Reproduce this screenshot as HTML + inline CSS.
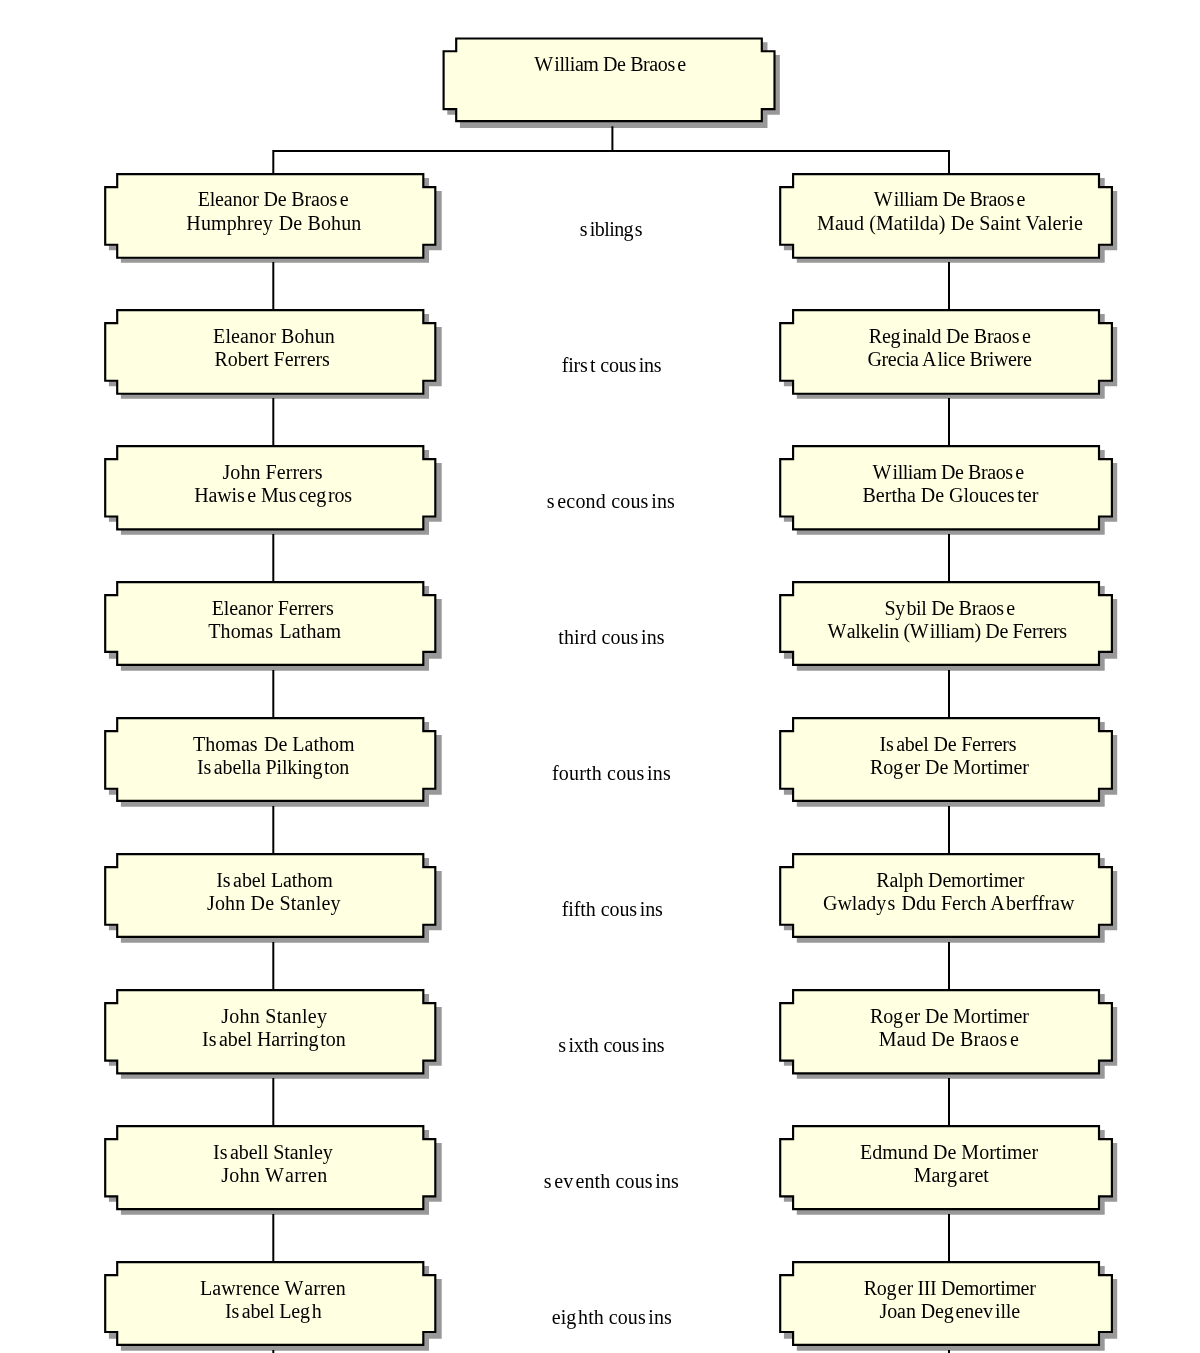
<!DOCTYPE html>
<html><head><meta charset="utf-8"><title>Relationship Chart</title>
<style>
html,body{margin:0;padding:0;background:#fff;}
body{width:1200px;height:1353px;overflow:hidden;font-family:"Liberation Serif",serif;}
svg{display:block;will-change:transform;}
text{font-family:"Liberation Serif",serif;font-size:20px;fill:#000;text-anchor:start;white-space:pre;}
</style></head><body>
<svg width="1200" height="1353" viewBox="0 0 1200 1353">
<rect width="1200" height="1353" fill="#fff"/>
<g fill="#999" stroke="#999" stroke-width="2" transform="translate(4.7 0)">
<path d="M456.2 43.35H761.8V56.1H774.15V113.7H761.8V127.1H456.2V113.7H443.6V56.1H456.2Z"/>
<path d="M117.2 179.0H423.3V192.0H436.0V249.3H423.3V261.8H117.2V249.3H105.2V192.0H117.2Z"/>
<path d="M793.1 179.0H1099.0V192.0H1111.5V249.3H1099.0V261.8H793.1V249.3H780.2V192.0H793.1Z"/>
<path d="M117.2 315.0H423.3V328.0H436.0V385.33H423.3V397.8H117.2V385.33H105.2V328.0H117.2Z"/>
<path d="M793.1 315.0H1099.0V328.0H1111.5V385.33H1099.0V397.8H793.1V385.33H780.2V328.0H793.1Z"/>
<path d="M117.2 451.0H423.3V464.0H436.0V520.8H423.3V533.8H117.2V520.8H105.2V464.0H117.2Z"/>
<path d="M793.1 451.0H1099.0V464.0H1111.5V520.8H1099.0V533.8H793.1V520.8H780.2V464.0H793.1Z"/>
<path d="M117.2 587.0H423.3V600.0H436.0V657.67H423.3V669.8H117.2V657.67H105.2V600.0H117.2Z"/>
<path d="M793.1 587.0H1099.0V600.0H1111.5V657.67H1099.0V669.8H793.1V657.67H780.2V600.0H793.1Z"/>
<path d="M117.2 723.0H423.3V736.0H436.0V793.67H423.3V805.8H117.2V793.67H105.2V736.0H117.2Z"/>
<path d="M793.1 723.0H1099.0V736.0H1111.5V793.67H1099.0V805.8H793.1V793.67H780.2V736.0H793.1Z"/>
<path d="M117.2 859.0H423.3V872.0H436.0V929.17H423.3V941.8H117.2V929.17H105.2V872.0H117.2Z"/>
<path d="M793.1 859.0H1099.0V872.0H1111.5V929.17H1099.0V941.8H793.1V929.17H780.2V872.0H793.1Z"/>
<path d="M117.2 995.0H423.3V1008.0H436.0V1064.83H423.3V1077.8H117.2V1064.83H105.2V1008.0H117.2Z"/>
<path d="M793.1 995.0H1099.0V1008.0H1111.5V1064.83H1099.0V1077.8H793.1V1064.83H780.2V1008.0H793.1Z"/>
<path d="M117.2 1131.0H423.3V1144.0H436.0V1200.83H423.3V1213.8H117.2V1200.83H105.2V1144.0H117.2Z"/>
<path d="M793.1 1131.0H1099.0V1144.0H1111.5V1200.83H1099.0V1213.8H793.1V1200.83H780.2V1144.0H793.1Z"/>
<path d="M117.2 1267.0H423.3V1280.0H436.0V1337.67H423.3V1349.8H117.2V1337.67H105.2V1280.0H117.2Z"/>
<path d="M793.1 1267.0H1099.0V1280.0H1111.5V1337.67H1099.0V1349.8H793.1V1337.67H780.2V1280.0H793.1Z"/>
</g>
<g fill="none" stroke="#000" stroke-width="2">
<path d="M612.4 126.3V151"/>
<path d="M273.3 174V151H949.0V174"/>
<path d="M273.3 262.0V310.1"/>
<path d="M949.0 262.0V310.1"/>
<path d="M273.3 398.0V446.1"/>
<path d="M949.0 398.0V446.1"/>
<path d="M273.3 534.0V582.1"/>
<path d="M949.0 534.0V582.1"/>
<path d="M273.3 670.0V718.1"/>
<path d="M949.0 670.0V718.1"/>
<path d="M273.3 806.0V854.1"/>
<path d="M949.0 806.0V854.1"/>
<path d="M273.3 942.0V990.1"/>
<path d="M949.0 942.0V990.1"/>
<path d="M273.3 1078.0V1126.1"/>
<path d="M949.0 1078.0V1126.1"/>
<path d="M273.3 1214.0V1262.1"/>
<path d="M949.0 1214.0V1262.1"/>
<path d="M273.3 1350.0V1353"/>
<path d="M949.0 1350.0V1353"/>
</g>
<g fill="#ffffe1" stroke="#000" stroke-width="2.15" stroke-linejoin="miter">
<path d="M456.2 38.45H761.8V51.2H774.5V109.1H761.8V121.1H456.2V109.1H443.6V51.2H456.2Z"/>
<path d="M117.2 174.1H423.3V187.05H435.3V244.75H423.3V257.75H117.2V244.75H105.2V187.05H117.2Z"/>
<path d="M793.1 174.1H1099.0V187.05H1111.9V244.75H1099.0V257.75H793.1V244.75H780.2V187.05H793.1Z"/>
<path d="M117.2 310.1H423.3V323.05H435.3V380.75H423.3V393.75H117.2V380.75H105.2V323.05H117.2Z"/>
<path d="M793.1 310.1H1099.0V323.05H1111.9V380.75H1099.0V393.75H793.1V380.75H780.2V323.05H793.1Z"/>
<path d="M117.2 446.1H423.3V459.05H435.3V516.5H423.3V529.3H117.2V516.5H105.2V459.05H117.2Z"/>
<path d="M793.1 446.1H1099.0V459.05H1111.9V516.5H1099.0V529.3H793.1V516.5H780.2V459.05H793.1Z"/>
<path d="M117.2 582.1H423.3V595.05H435.3V651.9H423.3V664.9H117.2V651.9H105.2V595.05H117.2Z"/>
<path d="M793.1 582.1H1099.0V595.05H1111.9V651.9H1099.0V664.9H793.1V651.9H780.2V595.05H793.1Z"/>
<path d="M117.2 718.1H423.3V731.05H435.3V788.75H423.3V800.9H117.2V788.75H105.2V731.05H117.2Z"/>
<path d="M793.1 718.1H1099.0V731.05H1111.9V788.75H1099.0V800.9H793.1V788.75H780.2V731.05H793.1Z"/>
<path d="M117.2 854.1H423.3V867.05H435.3V924.75H423.3V936.9H117.2V924.75H105.2V867.05H117.2Z"/>
<path d="M793.1 854.1H1099.0V867.05H1111.9V924.75H1099.0V936.9H793.1V924.75H780.2V867.05H793.1Z"/>
<path d="M117.2 990.1H423.3V1003.05H435.3V1060.6H423.3V1073.4H117.2V1060.6H105.2V1003.05H117.2Z"/>
<path d="M793.1 990.1H1099.0V1003.05H1111.9V1060.6H1099.0V1073.4H793.1V1060.6H780.2V1003.05H793.1Z"/>
<path d="M117.2 1126.1H423.3V1139.05H435.3V1196.4H423.3V1209.1H117.2V1196.4H105.2V1139.05H117.2Z"/>
<path d="M793.1 1126.1H1099.0V1139.05H1111.9V1196.4H1099.0V1209.1H793.1V1196.4H780.2V1139.05H793.1Z"/>
<path d="M117.2 1262.1H423.3V1275.05H435.3V1332.0H423.3V1344.9H117.2V1332.0H105.2V1275.05H117.2Z"/>
<path d="M793.1 1262.1H1099.0V1275.05H1111.9V1332.0H1099.0V1344.9H793.1V1332.0H780.2V1275.05H793.1Z"/>
</g>
<g>
<text x="534.25" y="71" dx="0 1.98 -0.42 -0.42 -0.42 -0.42 -0.42 -0.42 -0.42 -0.42 -0.42 -0.42 -0.42 -0.42 -0.42 -0.42 2.18">William De Braose</text>
<text x="197.65" y="206" dx="0 -0.17 -0.17 -0.17 -0.17 -0.17 -0.17 -0.17 -0.17 -0.17 -0.17 -0.17 -0.17 -0.17 -0.17 -0.17 2.43">Eleanor De Braose</text>
<text x="186.3" y="230" dx="0 0.13 0.13 0.13 0.13 0.13 0.13 0.13 0.83 0.13 0.13 0.13 0.13 0.13 0.13 0.13 0.13">Humphrey De Bohun</text>
<text x="873.75" y="206" dx="0 1.96 -0.44 -0.44 -0.44 -0.44 -0.44 -0.44 -0.44 -0.44 -0.44 -0.44 -0.44 -0.44 -0.44 -0.44 2.16">William De Braose</text>
<text x="817.0" y="230" dx="0 0.09 0.09 0.09 0.09 0.09 0.09 0.09 0.09 0.09 0.09 0.09 0.09 0.09 0.09 0.09 0.09 0.09 0.09 0.09 0.09 0.09 0.09 0.09 0.09 0.09 0.09 0.09 0.09 0.09 0.09">Maud (Matilda) De Saint Valerie</text>
<text x="579.87" y="236" dx="0 2.04 -0.56 -0.56 -0.56 -0.56 -0.56 1.24">siblings</text>
<text x="213.1" y="343" dx="0 0.09 0.09 0.09 0.09 0.09 0.09 0.09 0.09 0.09 0.09 0.09 0.09">Eleanor Bohun</text>
<text x="214.6" y="366" dx="0 -0.07 -0.07 -0.07 -0.07 -0.07 -0.07 -0.07 -0.07 -0.07 -0.07 -0.07 -0.07 -0.07">Robert Ferrers</text>
<text x="868.75" y="343" dx="0 -0.2 -0.2 1.6 -0.2 -0.2 -0.2 -0.2 -0.2 -0.2 -0.2 -0.2 -0.2 -0.2 -0.2 -0.2 -0.2 2.4">Reginald De Braose</text>
<text x="867.5" y="366" dx="0 -0.38 -0.38 -0.38 -0.38 -0.38 -0.38 -0.38 1.02 -0.38 -0.38 -0.38 -0.38 -0.38 -0.38 -0.38 -0.38 -0.38 -0.38 -0.38">Grecia Alice Briwere</text>
<text x="561.7" y="372" dx="0 -0.22 -0.22 -0.22 2.38 -0.22 -0.22 -0.22 -0.22 -0.22 2.38 -0.22 -0.22">first cousins</text>
<text x="222.5" y="479" dx="0 0.05 0.05 0.05 0.05 0.05 0.05 0.05 0.05 0.05 0.05 0.05">John Ferrers</text>
<text x="194.2" y="502" dx="0 -0.13 -0.13 -0.13 -0.13 2.47 -0.13 -0.13 -0.13 -0.13 2.47 -0.13 -0.13 1.67 -0.13 -0.13">Hawise Muscegros</text>
<text x="872.5" y="479" dx="0 1.95 -0.45 -0.45 -0.45 -0.45 -0.45 -0.45 -0.45 -0.45 -0.45 -0.45 -0.45 -0.45 -0.45 -0.45 2.15">William De Braose</text>
<text x="862.5" y="502" dx="0 -0.01 -0.01 -0.01 -0.01 -0.01 -0.01 -0.01 -0.01 -0.01 -0.01 -0.01 -0.01 -0.01 -0.01 -0.01 -0.01 2.59 -0.01 -0.01">Bertha De Gloucester</text>
<text x="546.7" y="508" dx="0 2.78 0.18 0.18 0.18 0.18 0.18 0.18 0.18 0.18 0.18 2.78 0.18 0.18">second cousins</text>
<text x="211.7" y="615" dx="0 -0.14 -0.14 -0.14 -0.14 -0.14 -0.14 -0.14 -0.14 -0.14 -0.14 -0.14 -0.14 -0.14 -0.14">Eleanor Ferrers</text>
<text x="208.3" y="638" dx="0 0.07 0.07 0.07 0.07 0.07 1.37 0.07 0.07 0.07 0.07 0.07 0.07">Thomas Latham</text>
<text x="884.5" y="615" dx="0 -0.32 1.08 -0.32 -0.32 -0.32 -0.32 -0.32 -0.32 -0.32 -0.32 -0.32 -0.32 -0.32 2.28">Sybil De Braose</text>
<text x="827.5" y="638" dx="0 2.04 -0.36 -0.36 -0.36 -0.36 -0.36 -0.36 -0.36 -0.36 -0.36 2.04 -0.36 -0.36 -0.36 -0.36 -0.36 -0.36 -0.36 -0.36 -0.36 -0.36 -0.36 -0.36 -0.36 -0.36 -0.36 -0.36 -0.36">Walkelin (William) De Ferrers</text>
<text x="558.3" y="644" dx="0 0.07 0.07 0.07 0.07 0.07 0.07 0.07 0.07 0.07 2.67 0.07 0.07">third cousins</text>
<text x="193.1" y="751" dx="0 0.01 0.01 0.01 0.01 0.01 1.31 0.01 0.01 0.01 0.01 0.01 0.01 0.01 0.01 0.01">Thomas De Lathom</text>
<text x="197.1" y="774" dx="0 -0.16 2.44 -0.16 -0.16 -0.16 -0.16 -0.16 -0.16 -0.16 -0.16 -0.16 -0.16 -0.16 -0.16 -0.16 1.64 -0.16 -0.16">Isabella Pilkington</text>
<text x="879.5" y="751" dx="0 -0.21 2.39 -0.21 -0.21 -0.21 -0.21 -0.21 -0.21 -0.21 -0.21 -0.21 -0.21 -0.21 -0.21 -0.21 -0.21">Isabel De Ferrers</text>
<text x="870.0" y="774" dx="0 -0.11 -0.11 1.69 -0.11 -0.11 -0.11 -0.11 -0.11 -0.11 -0.11 -0.11 -0.11 -0.11 -0.11 -0.11 -0.11">Roger De Mortimer</text>
<text x="552.0" y="780" dx="0 0.17 0.17 0.17 0.17 0.17 0.17 0.17 0.17 0.17 0.17 2.77 0.17 0.17">fourth cousins</text>
<text x="216.25" y="887" dx="0 -0.1 2.5 -0.1 -0.1 -0.1 -0.1 -0.1 -0.1 -0.1 -0.1 -0.1 -0.1">Isabel Lathom</text>
<text x="206.9" y="910" dx="0 0.18 0.18 0.18 0.18 0.18 0.18 0.18 0.18 0.18 0.18 0.18 0.18 0.18 0.18">John De Stanley</text>
<text x="876.25" y="887" dx="0 -0.16 -0.16 -0.16 -0.16 -0.16 -0.16 -0.16 -0.16 -0.16 -0.16 -0.16 -0.16 -0.16 -0.16 -0.16">Ralph Demortimer</text>
<text x="823.0" y="910" dx="0 -0.03 -0.03 -0.03 -0.03 -0.03 1.37 1.27 -0.03 -0.03 -0.03 -0.03 -0.03 -0.03 -0.03 -0.03 -0.03 -0.03 -0.03 1.37 -0.03 -0.03 -0.03 -0.03 -0.03 -0.03 -0.03">Gwladys Ddu Ferch Aberffraw</text>
<text x="561.7" y="916" dx="0 -0.08 -0.08 -0.08 -0.08 -0.08 -0.08 -0.08 -0.08 -0.08 2.52 -0.08 -0.08">fifth cousins</text>
<text x="221.25" y="1023" dx="0 0.26 0.26 0.26 0.26 0.26 0.26 0.26 0.26 0.26 0.26 0.26">John Stanley</text>
<text x="202.1" y="1046" dx="0 -0.09 2.51 -0.09 -0.09 -0.09 -0.09 -0.09 -0.09 -0.09 -0.09 -0.09 -0.09 -0.09 1.71 -0.09 -0.09">Isabel Harrington</text>
<text x="870.0" y="1023" dx="0 -0.11 -0.11 1.69 -0.11 -0.11 -0.11 -0.11 -0.11 -0.11 -0.11 -0.11 -0.11 -0.11 -0.11 -0.11 -0.11">Roger De Mortimer</text>
<text x="878.75" y="1046" dx="0 0.15 0.15 0.15 0.15 0.15 0.15 0.15 0.15 0.15 0.15 0.15 0.15 2.75">Maud De Braose</text>
<text x="558.3" y="1052" dx="0 2.36 -0.24 -0.24 -0.24 -0.24 -0.24 -0.24 -0.24 -0.24 2.36 -0.24 -0.24">sixth cousins</text>
<text x="213.1" y="1159" dx="0 -0.1 2.5 -0.1 -0.1 -0.1 -0.1 -0.1 -0.1 -0.1 -0.1 -0.1 -0.1 -0.1 -0.1">Isabell Stanley</text>
<text x="221.25" y="1182" dx="0 0.27 0.27 0.27 0.27 0.27 2.67 0.27 0.27 0.27 0.27">John Warren</text>
<text x="860.0" y="1159" dx="0 0.02 0.02 0.02 0.02 0.02 0.02 0.02 0.02 0.02 0.02 0.02 0.02 0.02 0.02 0.02 0.02 0.02">Edmund De Mortimer</text>
<text x="913.75" y="1182" dx="0 0.05 0.05 0.05 1.85 0.05 0.05 0.05">Margaret</text>
<text x="543.8" y="1188" dx="0 2.72 0.12 2.12 0.12 0.12 0.12 0.12 0.12 0.12 0.12 0.12 2.72 0.12 0.12">seventh cousins</text>
<text x="200.0" y="1295" dx="0 0.1 0.1 0.1 0.1 0.1 0.1 0.1 0.1 0.1 2.5 0.1 0.1 0.1 0.1">Lawrence Warren</text>
<text x="225.0" y="1318" dx="0 -0.16 2.44 -0.16 -0.16 -0.16 -0.16 -0.16 -0.16 -0.16 1.64">Isabel Legh</text>
<text x="863.75" y="1295" dx="0 -0.34 -0.34 1.46 -0.34 -0.34 -0.34 -0.34 -0.34 -0.34 -0.34 -0.34 -0.34 -0.34 -0.34 -0.34 -0.34 -0.34 -0.34 -0.34">Roger III Demortimer</text>
<text x="879.5" y="1318" dx="0 -0.1 -0.1 -0.1 -0.1 -0.1 -0.1 -0.1 1.7 -0.1 -0.1 -0.1 1.9 -0.1 -0.1 -0.1">Joan Degeneville</text>
<text x="551.7" y="1324" dx="0 0.05 0.05 1.85 0.05 0.05 0.05 0.05 0.05 0.05 0.05 2.65 0.05 0.05">eighth cousins</text>
</g>
</svg>
</body></html>
